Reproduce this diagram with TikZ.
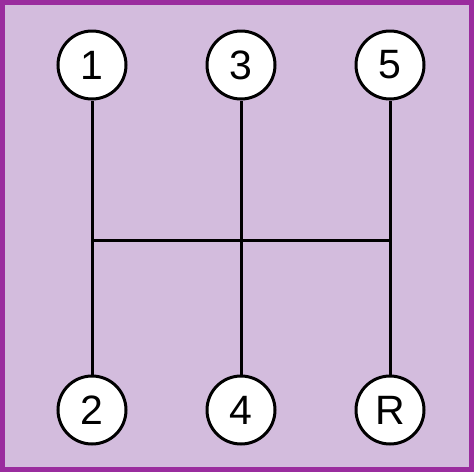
\documentclass[tikz,border=0pt]{standalone}
\usepackage{fontspec}
\setmainfont{Liberation Sans}
\definecolor{frame}{HTML}{9A2C9E}
\definecolor{bg}{HTML}{D3BCDD}
\tikzset{
  gear/.style={circle, draw=black, fill=white, line width=3pt, minimum size=68pt, inner sep=0pt, font=\fontsize{41}{41}\selectfont},
  rod/.style={line width=3pt, draw=black}
}
\begin{document}
\begin{tikzpicture}[x=1pt,y=-1pt]
\useasboundingbox (0,0) rectangle (474,472);
\fill[frame] (0,0) rectangle (474,472);
\fill[bg] (5,5) rectangle (469,467);
\coordinate (hl) at (92,240);
\coordinate (hr) at (390,240);
\node[gear] (g1) at (92,65) {1};
\node[gear] (g3) at (241,65) {3};
\node[gear] (g5) at (390,65) {5};
\node[gear] (g2) at (92,410) {2};
\node[gear] (g4) at (241,410) {4};
\node[gear] (gR) at (390,410) {R};
\draw[rod] (g1.south) -- (g2.north);
\draw[rod] (g3.south) -- (g4.north);
\draw[rod] (g5.south) -- (gR.north);
\draw[rod] (hl) -- (hr);
\end{tikzpicture}
\end{document}
